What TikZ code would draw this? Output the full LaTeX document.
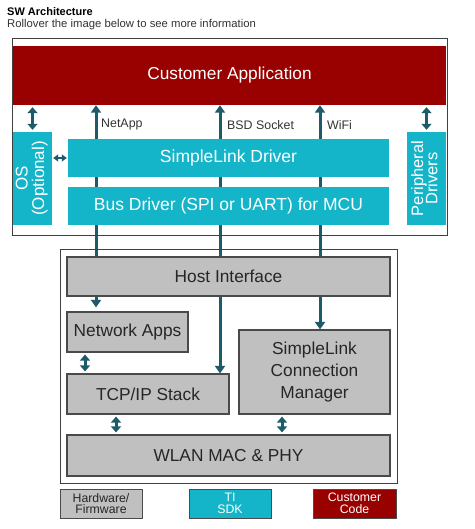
\documentclass[tikz,border=0pt]{standalone}
\usepackage{fontspec}
\setmainfont{Liberation Sans}
\usetikzlibrary{arrows.meta,backgrounds}
\definecolor{cred}{HTML}{990000}
\definecolor{ccyan}{HTML}{14B5C9}
\definecolor{carrow}{HTML}{1D5B6B}
\definecolor{cgray}{HTML}{C0C0C0}
\definecolor{cborder}{HTML}{4A4A4A}
\definecolor{ctext}{HTML}{333333}
\tikzset{
  redbox/.style={fill=cred, draw=none, text=white, inner sep=0pt, font=\fontsize{17.3}{19}\selectfont},
  cyanbox/.style={fill=ccyan, draw=none, text=white, inner sep=0pt, font=\fontsize{17.5}{19}\selectfont},
  graybox/.style={fill=cgray, draw=cborder, line width=1.2pt, text=black!85, inner sep=0pt, align=center, font=\fontsize{17.3}{22}\selectfont},
  frame/.style={draw=black!75, line width=0.9pt, inner sep=0pt},
  legend/.style={draw=cborder, line width=1pt, inner sep=0pt, align=center, font=\fontsize{12.3}{11.5}\selectfont},
  arr/.style={draw=carrow, line width=3pt, -{Triangle[length=7.5pt,width=10pt]}},
  darr/.style={draw=carrow, line width=3pt, {Triangle[length=6pt,width=10pt]}-{Triangle[length=6pt,width=10pt]}},
  harr/.style={draw=carrow, line width=2pt, {Triangle[length=5pt,width=7pt]}-{Triangle[length=5pt,width=7pt]}},
  lbl/.style={text=ctext, inner sep=0pt, anchor=west, font=\fontsize{12.4}{13}\selectfont},
}
\begin{document}
\begin{tikzpicture}[x=1pt,y=-1pt]
\useasboundingbox (0,0) rectangle (474,529);
% title
\node[anchor=west, inner sep=0pt, font=\bfseries\fontsize{11}{12}\selectfont] (title) at (7,12) {SW Architecture};
\node[anchor=west, inner sep=0pt, text=ctext, font=\fontsize{11.3}{12}\selectfont] (subtitle) at (7,24.5) {Rollover the image below to see more information};
% outer frames
\node[frame, minimum width=435pt, minimum height=197pt] (upper) at (229.5,136.5) {};
\node[frame, minimum width=337pt, minimum height=234pt] (lower) at (228.5,366) {};
% upper boxes
\node[redbox, minimum width=433pt, minimum height=59pt] (app) at (229.5,75.5) {Customer Application};
\node[cyanbox, minimum width=39pt, minimum height=93pt, align=center, font=\fontsize{17}{17}\selectfont] (os) at (32.5,178.5) {\rotatebox{90}{\begin{tabular}{@{}c@{}}OS\\[-1pt](Optional)\end{tabular}}};
\node[cyanbox, minimum width=321pt, minimum height=38pt] (sld) at (228.5,158) {SimpleLink Driver};
\node[cyanbox, minimum width=321pt, minimum height=38pt] (bus) at (228.5,206) {Bus Driver (SPI or UART) for MCU};
\node[cyanbox, minimum width=39pt, minimum height=93pt, align=center, font=\fontsize{16.5}{15}\selectfont] (per) at (426.5,178.5) {\rotatebox{90}{\begin{tabular}{@{}c@{}}Peripheral\\[-2pt]Drivers\end{tabular}}};
% lower boxes
\node[graybox, minimum width=323pt, minimum height=39pt] (host) at (228.5,276.5) {Host Interface};
\node[graybox, minimum width=121pt, minimum height=40pt] (napps) at (127.5,332) {Network Apps};
\node[graybox, minimum width=162pt, minimum height=40pt] (tcp) at (148,394) {TCP/IP Stack};
\node[graybox, minimum width=151pt, minimum height=84pt] (slcm) at (314.5,372) {SimpleLink\\Connection\\Manager};
\node[graybox, minimum width=323pt, minimum height=41pt] (wlan) at (228.5,455.5) {WLAN MAC \& PHY};
% legend
\node[legend, fill=cgray, text=black!85, minimum width=82pt, minimum height=29pt] (lhw) at (101,503.5) {Hardware/\\Firmware};
\node[legend, fill=ccyan, text=white, minimum width=82pt, minimum height=29pt] (lti) at (230,503.5) {TI\\SDK};
\node[legend, fill=cred, text=white, minimum width=83pt, minimum height=29pt] (lcc) at (354.5,503.5) {Customer\\Code};
% connector x positions
\coordinate (xna) at (96,0);
\coordinate (xbsd) at (220,0);
\coordinate (xwifi) at (320,0);
\coordinate (xna2) at (85,0);
\coordinate (xtw) at (116,0);
\coordinate (xsw) at (282,0);
% connectors
\begin{scope}[on background layer]
\draw[arr] (host.north -| xna) -- (app.south -| xna);
\draw[arr] (host.north -| xbsd) -- (app.south -| xbsd);
\draw[arr] (host.north -| xwifi) -- (app.south -| xwifi);
\end{scope}
\draw[arr] (host.south -| xna) -- ([yshift=4pt]napps.north -| xna);
\draw[arr] (host.south -| xbsd) -- (tcp.north -| xbsd);
\draw[arr] (host.south -| xwifi) -- (slcm.north -| xwifi);
\draw[darr, shorten <=2pt, shorten >=2pt] (os.north) -- (app.south -| os.north);
\draw[darr, shorten <=2pt, shorten >=2pt] (per.north) -- (app.south -| per.north);
\draw[harr, shorten <=1pt, shorten >=1pt] (os.east |- sld.west) -- (sld.west);
\draw[darr, shorten <=2pt, shorten >=2pt] (napps.south -| xna2) -- (tcp.north -| xna2);
\draw[darr, shorten <=2pt, shorten >=2pt] (tcp.south -| xtw) -- (wlan.north -| xtw);
\draw[darr, shorten <=2pt, shorten >=2pt] (slcm.south -| xsw) -- (wlan.north -| xsw);
% labels
\node[lbl] (lna) at (101,125) {NetApp};
\node[lbl] (lbsd) at (227,125) {BSD Socket};
\node[lbl] (lwifi) at (327,125) {WiFi};
\end{tikzpicture}
\end{document}
